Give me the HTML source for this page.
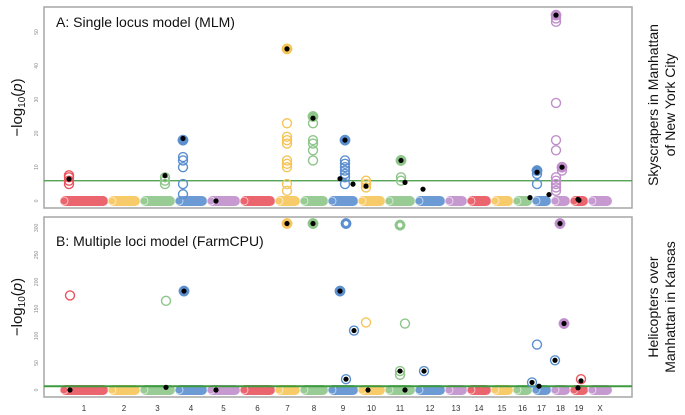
<!DOCTYPE html>
<html><head><meta charset="utf-8"><style>
body{margin:0;background:#fff;width:685px;height:415px;overflow:hidden;font-family:"Liberation Sans",sans-serif}
svg{display:block}
</style></head><body>
<svg id="chart" width="685" height="415" xmlns="http://www.w3.org/2000/svg"></svg>
<script>
const chromNames=["1","2","3","4","5","6","7","8","9","10","11","12","13","14","15","16","17","18","19","X"];
const chromLen=[48,32,35,32,33,35,25,28,30,27,30,30,22,24,22,19,19,19,18,24];
const chromColors=["#e9545e","#f6c55a","#8ec589","#5b8fcf","#c08fcb","#e9545e","#f6c55a","#8ec589","#5b8fcf","#f6c55a","#8ec589","#5b8fcf","#c08fcb","#e9545e","#f6c55a","#8ec589","#5b8fcf","#c08fcb","#e9545e","#c08fcb"];
const peaksA=[
[0,9,5,"o"],[0,9,6,"o"],[0,9,7,"o"],[0,9,7.6,"o"],[0,9,6.5,"d"],
[2,25,5,"o"],[2,25,6,"o"],[2,25,7,"o"],[2,25,7.5,"d"],
[3,8,2,"o"],[3,8,5,"o"],[3,8,10,"o"],[3,8,12,"o"],[3,8,13,"o"],[3,8,18,"f"],[3,8,18.5,"d"],
[4,9,0,"d"],
[6,12,3,"o"],[6,12,5,"o"],[6,12,10,"o"],[6,12,11,"o"],[6,12,12,"o"],[6,12,17,"o"],[6,12,18,"o"],[6,12,19,"o"],[6,12,23,"o"],[6,12,45,"f"],[6,12,45,"d"],
[7,13,12,"o"],[7,13,15,"o"],[7,13,17,"o"],[7,13,18,"o"],[7,13,23,"o"],[7,13,25,"f"],[7,13,24.5,"d"],
[8,17,5,"o"],[8,17,7,"o"],[8,17,8,"o"],[8,17,9,"o"],[8,17,10,"o"],[8,17,11,"o"],[8,17,12,"o"],[8,17,18,"f"],[8,17,18,"d"],[8,12,6.6,"d"],[8,25,5,"d"],
[9,8,4,"o"],[9,8,5,"o"],[9,8,6,"o"],[9,8,4.4,"d"],
[10,16,6,"o"],[10,16,7,"o"],[10,16,12,"f"],[10,16,12,"d"],[10,20,5.5,"d"],
[11,8,3.5,"d"],
[16,5,5,"o"],[16,5,8,"o"],[16,5,9,"f"],[16,5,8.5,"d"],[16,-2,1,"d"],
[17,5,3,"o"],[17,5,4,"o"],[17,5,5,"o"],[17,5,6,"o"],[17,5,7,"o"],[17,5,15,"o"],[17,5,18,"o"],[17,5,29,"o"],[17,5,53,"o"],[17,5,54,"o"],[17,5,55,"f"],[17,5,55,"d"],[17,-2,1.9,"d"],
[17,11,9,"o"],[17,11,10,"f"],[17,11,10,"d"],
[18,8,0.5,"d"],[18,9,0.2,"d"]
];
const peaksB=[
[0,10,175,"o"],[0,10,0,"d"],
[2,26,165,"o"],[2,26,5,"d"],
[3,9,183,"f"],[3,9,183,"d"],
[4,9,0,"d"],
[6,12,308,"f"],[6,12,308,"d"],
[7,13,308,"f"],[7,13,308,"d"],
[8,18,308,"f"],[8,18,308,"w"],
[8,12,183,"f"],[8,12,183,"d"],
[8,18,20,"o"],[8,18,20,"d"],
[8,26,110,"o"],[8,26,110,"d"],
[9,8,125,"o"],[9,10,0,"d"],
[10,15,305,"f"],[10,15,305,"w"],
[10,20,123,"o"],
[10,15,28,"o"],[10,15,35,"o"],[10,15,35,"d"],[10,20,0,"d"],
[11,9,35,"o"],[11,9,35,"d"],
[16,5,84,"o"],[16,0,14,"o"],[16,0,14,"d"],[16,7,7,"d"],
[16,23,55,"o"],[16,23,55,"d"],
[17,9,308,"f"],[17,9,308,"d"],
[17,13,123,"f"],[17,13,123,"d"],
[18,11,20,"o"],[18,11,17,"d"],[18,8,4,"d"]
];
const ticksA=[0,10,20,30,40,50];
const ticksB=[0,50,100,150,200,250,300];
const thresholdA=6, thresholdB=7;

const svg=document.getElementById('chart');
const NS="http://www.w3.org/2000/svg";
function mk(tag,attrs,parent){const e=document.createElementNS(NS,tag);for(const k in attrs)e.setAttribute(k,attrs[k]);(parent||svg).appendChild(e);return e;}
const X0=60,X1=612;
const total=chromLen.reduce((a,b)=>a+b,0);
const starts=[];let acc=0;chromLen.forEach(l=>{starts.push(acc);acc+=l;});
function xScale(ci,pos){return X0+(starts[ci]+pos)/total*(X1-X0);}
const panels=[
 {name:"panel-a",top:7,bottom:208,y0:201,ppu:3.38,ticks:ticksA,peaks:peaksA,thr:thresholdA,title:"A: Single locus model (MLM)",ty:27},
 {name:"panel-b",top:217,bottom:397,y0:390,ppu:0.5405,ticks:ticksB,peaks:peaksB,thr:thresholdB,title:"B: Multiple loci model (FarmCPU)",ty:246}
];
panels.forEach(p=>{
 const g=mk('g',{});
 
 
 const yS=v=>p.y0-v*p.ppu;
 const box=mk('rect',{x:44,y:p.top,width:588,height:p.bottom-p.top,fill:'none',stroke:'#a6a6a6','stroke-width':1.5},g);
 
 p.ticks.forEach(t=>{
  const tx=mk('text',{x:0,y:0,transform:`translate(38,${yS(t)}) rotate(-90)`,'font-size':5,fill:'#888','text-anchor':'middle'},g);
  tx.textContent=t;
  
 });
 chromLen.forEach((l,i)=>{
  const xa=xScale(i,0),xb=xScale(i,l);
  const r=mk('rect',{x:xa,y:p.y0-5,width:xb-xa,height:10,rx:5,fill:chromColors[i],opacity:0.9},g);
  
  mk('circle',{cx:xa+4,cy:p.y0,r:4,fill:'none',stroke:'#fff','stroke-width':0.8,opacity:0.7},g);
 });
 const thr=mk('line',{x1:44,x2:632,y1:yS(p.thr),y2:yS(p.thr),stroke:'#3f9a3f','stroke-width':p.name=="panel-b"?2:1.3},g);
 
 p.peaks.forEach(d=>{
  const [ci,pos,v,t]=d;const cx=xScale(ci,pos),cy=yS(v);const col=chromColors[ci];
  let c;
  if(t==="o"){c=mk('circle',{cx,cy,r:4.5,fill:'none',stroke:col,'stroke-width':1.4},g);}
  else if(t==="f"){c=mk('circle',{cx,cy,r:5.2,fill:col,stroke:col,'stroke-width':0.5},g);}
  else if(t==="w"){c=mk('circle',{cx,cy,r:2.4,fill:'#fff'},g);}
  else {c=mk('circle',{cx,cy,r:2.6,fill:'#000'},g);}
  
  
 });
 const tt=mk('text',{x:56,y:p.ty,'font-size':14,fill:'#111'},g);
 tt.textContent=p.title;
 
 const yt=mk('text',{x:0,y:0,transform:`translate(22,${(p.top+p.bottom)/2}) rotate(-90)`,'font-size':15,fill:'#111','text-anchor':'middle'},g);
 yt.innerHTML='−log<tspan font-size="10" dy="3">10</tspan><tspan dy="-3">(</tspan><tspan font-style="italic">p</tspan>)';
 
});
chromNames.forEach((n,i)=>{
 const t=mk('text',{x:xScale(i,chromLen[i]/2),y:411,'font-size':8,fill:'#333','text-anchor':'middle'});
 t.textContent=n;
 
});
function sideTitle(lines,cy,name){
 const t=mk('text',{x:0,y:0,transform:`translate(658,${cy}) rotate(-90)`,'font-size':14,fill:'#111','text-anchor':'middle'});
 
 lines.forEach((l,i)=>{const s=mk('tspan',{x:0,dy:i?17:0},t);s.textContent=l;});
}
sideTitle(["Skyscrapers in Manhattan","of New York City"],105,'panel-a-side-title');
sideTitle(["Helicopters over","Manhattan in Kansas"],307,'panel-b-side-title');
</script>
</body></html>
